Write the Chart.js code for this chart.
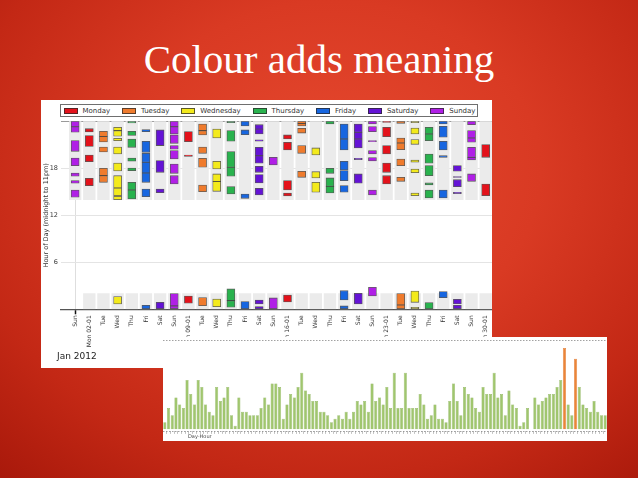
<!DOCTYPE html>
<html>
<head>
<meta charset="utf-8">
<script src="https://cdn.jsdelivr.net/npm/chart.js@4/dist/chart.umd.min.js"></script>
<style>
  html, body { margin: 0; padding: 0; width: 638px; height: 478px; overflow: hidden; }
  body {
    position: relative;
    font-family: "DejaVu Sans", sans-serif;
    background: radial-gradient(ellipse 78% 85% at 52% 36%, #e6492f 0%, #d93a23 42%, #c32815 75%, #a9190b 100%);
  }
  #title {
    position: absolute; left: 0; top: 39px; width: 638px;
    text-align: center; color: #fff;
    font-family: "Liberation Serif", serif; font-size: 41px; line-height: 41px;
  }
  #heat { position: absolute; left: 41px; top: 100px; width: 451px; height: 268px; background: #fff; overflow: hidden; }
  #heat-wrap { position: absolute; left: 0; top: 0; width: 480px; height: 268px; }
  #legend {
    position: absolute; left: 19px; top: 4px; width: 418px; height: 13px; box-sizing: border-box;
    border: 1px solid #6f6f6f; background: #fff; padding: 0 1.5px 0 2.5px;
    display: flex; align-items: center; justify-content: space-between;
    font-size: 7px; color: #333;
  }
  #legend .item { display: flex; align-items: center; white-space: nowrap; }
  #legend .swatch { width: 14px; height: 6px; box-sizing: border-box; border: 0.8px solid rgba(40,40,40,0.75); margin-right: 5px; }
  #month { position: absolute; left: 16px; top: 251px; font-size: 9px; color: #222; }
  #hours { position: absolute; left: 163px; top: 337px; width: 444px; height: 104px; background: #fff; overflow: hidden; }
  #hours-wrap { position: absolute; left: 0; top: 0; width: 444px; height: 98px; }
  #hours-title { position: absolute; left: 25px; top: 96px; font-size: 5px; color: #444; }
</style>
</head>
<body>
<div id="title">Colour adds meaning</div>

<div id="heat">
  <div id="heat-wrap"><canvas id="heat-chart"></canvas></div>
  <div id="legend"></div>
  <div id="month">Jan 2012</div>
</div>

<div id="hours">
  <div id="hours-wrap"><canvas id="hours-chart"></canvas></div>
  <div id="hours-title">Day-Hour</div>
</div>

<script>
const weekdayNames = ["Monday", "Tuesday", "Wednesday", "Thursday", "Friday", "Saturday", "Sunday"];
const weekdayColors = ["#e3121b", "#ef7b2d", "#f3ea1c", "#29b24e", "#1766e0", "#6413d5", "#b01fe6"];

const dayLabels = [
  "Sun", "Mon 02-01", "Tue", "Wed", "Thu", "Fri", "Sat",
  "Sun", "Mon 09-01", "Tue", "Wed", "Thu", "Fri", "Sat",
  "Sun", "Mon 16-01", "Tue", "Wed", "Thu", "Fri", "Sat",
  "Sun", "Mon 23-01", "Tue", "Wed", "Thu", "Fri", "Sat",
  "Sun", "Mon 30-01",
];

// active spells per day, [start hour, end hour]
const eveningBlocks = [
  [[22.6, 23.3], [23.3, 24], [20.17, 21.53], [18.34, 19.32], [16.98, 17.4], [16.09, 16.43], [14.3, 15.23]],
  [[22.64, 23.06], [20.8, 22.17], [18.85, 19.7], [15.79, 16.72]],
  [[22.04, 22.72], [21.36, 22.04], [20.09, 20.72], [17.06, 18.0], [16.21, 17.06]],
  [[22.8, 23.23], [22.09, 22.8], [21.53, 21.83], [19.83, 20.72], [17.66, 18.68], [15.49, 17.06], [14.51, 15.49], [14.0, 14.43]],
  [[23.8, 24], [22.2, 22.72], [20.68, 21.74], [18.9, 19.32], [17.7, 18.04], [15.23, 16.21], [14.09, 15.23]],
  [[22.68, 22.94], [20.04, 21.45], [18.77, 19.91], [17.4, 18.77], [16.21, 17.4], [14.38, 15.36]],
  [[20.9, 22.9], [17.49, 18.98], [14.89, 15.36]],
  [[23.3, 24], [22.38, 23.3], [21.19, 22.26], [20.43, 20.9], [19.19, 20.26], [17.36, 18.55], [16.0, 17.06]],
  [[21.4, 22.68], [19.53, 19.7]],
  [[22.8, 23.66], [22.26, 22.8], [19.91, 20.72], [18.13, 19.28], [15.02, 15.87]],
  [[21.87, 23.02], [17.91, 18.89], [16.3, 17.28], [15.06, 16.3]],
  [[23.83, 24], [21.45, 22.81], [18.13, 20.13], [16.98, 18.13], [14.72, 15.66]],
  [[23.4, 24], [22.3, 22.9], [14.17, 14.72]],
  [[23.0, 23.57], [22.38, 23.0], [21.45, 21.62], [19.6, 20.68], [18.64, 19.6], [17.49, 18.26], [16.13, 17.19], [14.6, 15.45]],
  [[18.43, 19.4]],
  [[21.74, 22.26], [20.34, 21.32], [15.23, 16.43], [14.47, 14.85]],
  [[23.7, 24], [23.4, 23.7], [22.5, 23.1], [19.91, 20.9], [16.85, 17.62]],
  [[19.7, 20.6], [16.77, 17.57], [14.94, 16.21]],
  [[23.66, 24], [17.36, 18.0], [15.7, 16.77], [14.85, 15.7]],
  [[21.74, 23.66], [20.34, 21.74], [17.79, 18.89], [16.43, 17.7], [14.94, 15.79]],
  [[22.6, 23.66], [21.74, 22.6], [20.6, 21.74], [19.11, 19.28], [16.09, 17.28]],
  [[23.66, 24], [22.68, 23.32], [21.4, 21.53], [19.83, 20.26], [18.94, 19.36], [14.6, 15.23]],
  [[23.87, 24], [22.04, 23.23], [19.83, 20.9], [17.49, 18.68], [16.0, 17.06]],
  [[23.74, 24], [21.23, 21.87], [20.38, 21.23], [18.34, 19.19], [16.34, 16.85]],
  [[23.83, 24], [22.38, 23.15], [21.06, 21.66], [18.77, 19.06], [17.45, 17.91], [14.51, 14.85]],
  [[22.38, 23.23], [21.53, 22.38], [18.64, 19.83], [17.06, 18.34], [15.87, 16.13], [14.21, 15.23]],
  [[23.66, 24], [21.96, 23.36], [20.34, 21.45], [19.4, 19.62], [14.21, 15.23]],
  [[17.62, 18.34], [16.85, 16.94], [15.66, 16.55], [14.77, 14.94]],
  [[23.57, 24], [21.87, 22.81], [21.32, 21.87], [19.4, 20.68], [19.06, 19.4], [16.34, 17.28]],
  [[19.4, 21.02], [14.51, 16.0]],
];

const nightBlocks = [
  [], [], [], [[0.68, 1.62]], [], [[0, 0.51]], [[0, 0.89]],
  [[0.43, 2.0], [0, 0.43]], [[0.77, 1.7]], [[0.47, 1.49]], [[0.34, 1.32]], [[1.1, 2.6], [0.26, 1.1]], [[0, 0.98]], [[0.68, 1.19], [0, 0.34]],
  [[0, 1.45]], [[0.94, 1.83]], [], [], [], [[1.19, 2.38], [0, 0.43]], [[0.68, 2.04]],
  [[1.7, 2.81]], [], [[0.55, 2.0], [0, 0.55]], [[0.89, 2.34], [0, 0.26]], [[0, 0.85]], [[1.49, 2.26]], [[0.68, 1.28], [0, 0.51]],
  [], [],
];

const eveningWindow = [14, 24];
const nightWindow = [0, 2];
const hourTicks = [0, 6, 12, 18, 24];

const hourCounts = [
  2, 6, 4, 9, 7, 6, 14, 10, 7, 14,
  12, 7, 5, 4, 12, 8, 9, 12, 4, 1,
  9, 5, 5, 4, 4, 4, 6, 9, 7, 13,
  13, 12, 3, 7, 10, 9, 12, 16, 11, 10,
  8, 8, 5, 5, 4, 2, 3, 4, 3, 5,
  3, 5, 8, 7, 8, 5, 13, 8, 9, 7,
  12, 6, 16, 6, 6, 16, 6, 6, 6, 10,
  7, 3, 4, 7, 3, 3, 2, 8, 13, 8,
  4, 12, 10, 9, 6, 5, 12, 10, 10, 16,
  9, 10, 4, 11, 7, 6, 1, 2, 6, 0,
  9, 7, 8, 9, 10, 10, 12, 14, 23, 7,
  4, 20, 12, 7, 6, 5, 8, 5, 4, 4,
];
const highlightHours = [108, 111];

function weekdayOf(day) {
  return (day + 6) % 7;
}

function blockPoints(weekday) {
  const points = [];
  [eveningBlocks, nightBlocks].forEach((list) => {
    list.forEach((blocks, day) => {
      if (weekdayOf(day) !== weekday) return;
      blocks.forEach((b) => points.push({ x: day, y: b }));
    });
  });
  return points;
}

function renderLegend() {
  const legend = document.getElementById("legend");
  legend.innerHTML = weekdayNames
    .map((name, i) => `<div class="item"><span class="swatch" style="background:${weekdayColors[i]}"></span>${name}</div>`)
    .join("");
}

function renderHeatChart() {
  const tickFont = { family: "DejaVu Sans", size: 6 };
  const weekdaySets = weekdayNames.map((name, i) => ({
    label: name,
    data: blockPoints(i),
    backgroundColor: weekdayColors[i],
    borderColor: "rgba(40,40,40,0.75)",
    borderWidth: 0.8,
    borderSkipped: false,
    barThickness: 8,
    grouped: false,
    order: 0,
  }));
  const windowSet = (data) => ({
    data,
    backgroundColor: "#ebebeb",
    borderWidth: 0,
    barThickness: 11.7,
    grouped: false,
    order: 1,
  });

  new Chart(document.getElementById("heat-chart").getContext("2d"), {
    type: "bar",
    data: {
      datasets: [
        ...weekdaySets,
        windowSet(dayLabels.map((_, d) => ({ x: d, y: eveningWindow }))),
        windowSet(dayLabels.map((_, d) => ({ x: d, y: nightWindow })).slice(1)),
      ],
    },
    options: {
      responsive: true,
      maintainAspectRatio: false,
      animation: false,
      layout: { padding: { top: 21.3, right: 7, left: 0, bottom: 0 } },
      plugins: { legend: { display: false }, tooltip: { enabled: false } },
      scales: {
        x: {
          type: "linear",
          min: -1,
          max: 31,
          offset: false,
          afterBuildTicks: (scale) => {
            scale.ticks = dayLabels.map((_, i) => ({ value: i }));
          },
          afterFit: (scale) => {
            scale.height = 58.7;
          },
          ticks: {
            autoSkip: false,
            minRotation: 90,
            maxRotation: 90,
            padding: 1,
            font: tickFont,
            color: "#333",
            callback: (value) => dayLabels[value] ?? "",
          },
          grid: {
            offset: false,
            color: (ctx) => (ctx.tick && ctx.tick.value === 0 ? "#dedede" : "rgba(0,0,0,0)"),
            tickColor: (ctx) => (ctx.tick && ctx.tick.value === 0 ? "#111" : "rgba(0,0,0,0)"),
            tickLength: 5,
            tickWidth: 1.5,
          },
          border: { color: "#555", width: 1.2 },
        },
        y: {
          min: 0,
          max: 24,
          afterBuildTicks: (scale) => {
            scale.ticks = hourTicks.map((v) => ({ value: v }));
          },
          afterFit: (scale) => {
            scale.width = 20;
          },
          ticks: {
            padding: 3,
            font: { family: "DejaVu Sans", size: 6.5 },
            color: "#333",
            callback: (value) => (value === 0 || value === 24 ? "" : value),
          },
          grid: {
            drawTicks: false,
            color: (ctx) => {
              const v = ctx.tick ? ctx.tick.value : null;
              if (v === 24) return "#9a9a9a";
              if (v === 0) return "rgba(0,0,0,0)";
              return "#e4e4e4";
            },
          },
          border: { display: false },
          title: {
            display: true,
            text: "Hour of Day (midnight to 11pm)",
            font: { family: "DejaVu Sans", size: 6.5 },
            color: "#333",
            padding: { top: 1.5, bottom: 0 },
          },
        },
      },
    },
  });
}

function renderHoursChart() {
  const fills = hourCounts.map((_, i) => (highlightHours.includes(i) ? "#eb8538" : "#a0c66e"));
  const edges = hourCounts.map((_, i) => (highlightHours.includes(i) ? "#d9702a" : "#86ad55"));
  const yMin = -0.6;
  const yMax = 25.3;

  new Chart(document.getElementById("hours-chart").getContext("2d"), {
    type: "bar",
    data: {
      labels: hourCounts.map((_, i) => String(i)),
      datasets: [
        {
          data: hourCounts,
          backgroundColor: fills,
          borderColor: edges,
          borderWidth: 0.5,
          barPercentage: 0.84,
          categoryPercentage: 1,
        },
      ],
    },
    options: {
      responsive: true,
      maintainAspectRatio: false,
      animation: false,
      layout: { padding: { top: 3, right: 0, left: 0, bottom: 0 } },
      plugins: { legend: { display: false }, tooltip: { enabled: false } },
      scales: {
        x: {
          afterFit: (scale) => {
            scale.height = 3.6;
          },
          ticks: { display: false },
          grid: { drawOnChartArea: false, drawTicks: true, tickLength: 2.5, tickColor: "#9a9a9a", tickWidth: 0.6 },
          border: { display: false },
        },
        y: {
          min: yMin,
          max: yMax,
          afterBuildTicks: (scale) => {
            scale.ticks = [{ value: yMin }, { value: yMax }];
          },
          afterFit: (scale) => {
            scale.width = 0;
          },
          ticks: { display: false },
          grid: { drawTicks: false, color: "#8a8a8a", lineWidth: 0.8 },
          border: { display: false, dash: [1.5, 1.5] },
        },
      },
    },
  });
}

renderLegend();
renderHeatChart();
renderHoursChart();
</script>
</body>
</html>
